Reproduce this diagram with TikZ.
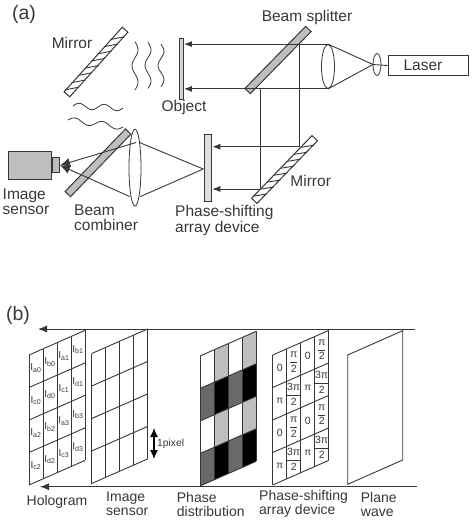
\documentclass[tikz,border=0pt]{standalone}
\usepackage{fontspec}
\setmainfont{Liberation Sans}
\definecolor{inkgray}{RGB}{55, 55, 55}
\definecolor{platefill}{RGB}{190, 190, 190}
\definecolor{devicefill}{RGB}{222, 222, 222}
\definecolor{darkcell}{RGB}{105, 105, 105}
\usetikzlibrary{arrows.meta, shapes.geometric, calc}
\newcommand{\labelsize}{\fontsize{15.5}{16}\selectfont}
\newcommand{\captionsize}{\fontsize{14}{14}\selectfont}
\newcommand{\phasefrac}[1]{$\displaystyle\frac{\mbox{#1}}{\mbox{2}}$}
\tikzset{
	plate/.style={rectangle, draw=inkgray, fill=platefill, line width=1pt, minimum width=87pt, minimum height=7.5pt, inner sep=0pt},
	mirrorplate/.style={plate, fill=white},
	lens/.style={ellipse, draw=inkgray, line width=0.8pt, inner sep=0pt},
	beam/.style={draw=inkgray, line width=0.9pt},
	beamarrow/.style={beam, -{Latex[length=8pt, width=6pt]}},
	hatchline/.style={draw=inkgray, line width=0.9pt},
	wave/.style={draw=inkgray, line width=0.8pt, smooth},
	panelline/.style={draw=inkgray, line width=0.9pt},
	optlabel/.style={text=inkgray, font=\labelsize, inner sep=0pt, align=left},
	panellabel/.style={text=inkgray, font=\captionsize, inner sep=0pt, align=left},
	celltext/.style={text=inkgray, font=\fontsize{10}{10}\selectfont, inner sep=0pt},
	fractext/.style={text=inkgray, font=\fontsize{10.5}{10.5}\selectfont, inner sep=0pt},
}
\begin{document}
\begin{tikzpicture}[x=1pt, y=-1pt]
	\useasboundingbox (0,0) rectangle (474,523);
	% (a)
	\node[text=inkgray, font=\fontsize{19.5}{19.5}\selectfont, inner sep=0pt] (tagA) at (24,14) {(a)};
	\node[plate, fill=devicefill!70!platefill, minimum width=3.5pt, minimum height=61pt] (object) at (181.7,68.5) {};
	\node[plate, fill=devicefill, minimum width=7.5pt, minimum height=67.5pt] (device) at (208,168) {};
	\node[plate, rotate=45.6] (splitter) at (278,60) {};
	\node[plate, rotate=46] (combiner) at (98,162.8) {};
	\node[mirrorplate, rotate=48] (mirrorA) at (96,62) {};
	\node[mirrorplate, rotate=46] (mirrorB) at (284.5,169.5) {};
	\foreach \m in {mirrorA, mirrorB}
		\foreach \t in {0.16,0.27,...,1.0}
			\draw[hatchline] ($(\m.south west)!\t!(\m.south east)$) -- ($(\m.north west)!\t-0.13!(\m.north east)$);
	\node[lens, minimum width=13pt, minimum height=44pt] (lensB) at (328,66.5) {};
	\node[lens, minimum width=8pt, minimum height=22pt] (lensC) at (377,64.5) {};
	\node[lens, minimum width=12pt, minimum height=77pt] (lensA) at (135,167.7) {};
	\node[rectangle, draw=inkgray, line width=0.9pt, minimum width=80pt, minimum height=20.5pt, inner sep=0pt, text=inkgray, font=\labelsize] (laser) at (428,65.5) {\hspace{-10pt}Laser};
	\node[rectangle, draw=inkgray, fill=platefill, line width=0.9pt, minimum width=42.7pt, minimum height=27.3pt] (sensor) at (29.7,165.3) {};
	\node[rectangle, draw=inkgray, fill=platefill, line width=0.9pt, minimum width=7.7pt, minimum height=15pt, anchor=west] (sensortip) at (sensor.east) {};
	\coordinate (focus) at (373,64.5);
	\coordinate (hitA) at (299.7,45);
	\coordinate (hitB) at (260,87.5);
	\coordinate (turnA) at (299.7,146.7);
	\coordinate (turnB) at (260,189);
	\coordinate (waist) at (203.3,169);
	\coordinate (rayTopR) at (139,142.3);
	\coordinate (rayTopL) at (136,142.5);
	\coordinate (rayBotR) at (140,196.7);
	\coordinate (rayBotL) at (130,196.7);
	\draw[beam] (lensB.north) -- (focus);
	\draw[beam] (lensB.south) -- (focus);
	\draw[beam] (lensC.west) -- (laser.west);
	\draw[beamarrow] (lensB.north) -- (object.east |- lensB.north);
	\draw[beamarrow] (lensB.south) -- (object.east |- lensB.south);
	\draw[beam] (hitA) -- (turnA);
	\draw[beam] (hitB) -- (turnB);
	\draw[beamarrow] (turnA) -- (device.east |- turnA);
	\draw[beamarrow] (turnB) -- (device.east |- turnB);
	\draw[beam] (waist) -- (rayTopR);
	\draw[beam] (waist) -- (rayBotR);
	\draw[beam, -{Latex[length=10pt, width=9pt]}] (rayTopL) -- (sensortip.east);
	\draw[beam, -{Latex[length=10pt, width=9pt]}] (rayBotL) -- (sensortip.east);
	% waves
	\foreach \wx/\wa/\wb in {135/41.7/90, 148/42.3/88.5, 161/44.3/86.7}
		\draw[wave] plot[domain=0:1, samples=25] ({\wx+3*sin(540*\x)}, {\wa+(\wb-\wa)*\x});
	\draw[wave] plot[domain=0:1, samples=25] ({73+50*\x}, {106+2*\x-3*sin(720*\x)});
	\draw[wave] plot[domain=0:1, samples=25] ({68+55*\x}, {120+7*\x-3*sin(720*\x)});
	\node[optlabel] (mirrorAlabel) at (72,43) {Mirror};
	\node[optlabel] (objectlabel) at (184,107) {Object};
	\node[optlabel] (sensorlabel) at (26,201.5) {Image\\[-1pt]sensor};
	\node[optlabel, anchor=west] (combinerlabel) at (74,217.5) {Beam\\[-1pt]combiner};
	\node[optlabel, anchor=west] (devicelabel) at (175,220.5) {Phase-shifting\\[-0.5pt]array device};
	\node[optlabel] (splitterlabel) at (307,17) {Beam splitter};
	\node[optlabel] (mirrorBlabel) at (310.7,180.7) {Mirror};
	% (b)
	\node[text=inkgray, font=\fontsize{19.5}{19.5}\selectfont, inner sep=0pt] (tagB) at (18,315) {(b)};
	\coordinate (topR) at (415,329);
	\coordinate (topL) at (38,329);
	\coordinate (botR) at (416.7,486.7);
	\coordinate (botL) at (40,486.7);
	% phase distribution cells
	\foreach \c/\r/\cellfill in {1/0/platefill, 3/0/platefill, 0/1/darkcell, 1/1/black, 2/1/darkcell, 3/1/black, 1/2/platefill, 3/2/platefill, 0/3/darkcell, 1/3/black, 2/3/darkcell, 3/3/black}
		\fill[\cellfill] ({200+\c*14}, {356+\r*32.5-\c*6.15}) -- ++(14,-6.15) -- ++(0,32.5) -- ++(-14,6.15) -- cycle;
	% panels
	\foreach \px/\py in {29/355, 91.7/353.5, 200/356, 272.7/355}{
		\foreach \c in {0,...,4}
			\draw[panelline] ({\px+\c*14}, {\py-\c*6.15}) -- ++(0,130);
		\foreach \r in {0,...,4}
			\draw[panelline] ({\px}, {\py+\r*32.5}) -- ++(56,-24.6);
	}
	\draw[panelline] (347.7,355) -- (402.7,330.7) -- (402.7,460) -- (347.7,484.3) -- cycle;
	% hologram text
	\foreach \c/\r/\a in {0/0/a0, 1/0/b0, 2/0/a1, 3/0/b1, 0/1/c0, 1/1/d0, 2/1/c1, 3/1/d1, 0/2/a2, 1/2/b2, 2/2/a3, 3/2/b3, 0/3/c2, 1/3/d2, 2/3/c3, 3/3/d3}
		\node[celltext] (holo\a) at ({29+(\c+0.5)*14}, {355+(\r+0.5)*32.5-(\c+0.5)*6.15}) {I\textsubscript{\a}};
	% phase-shift text
	\foreach \r in {0,2}{
		\node[fractext] (zeroA\r) at ({272.7+0.5*14}, {355+(\r+0.5)*32.5-0.5*6.15}) {0};
		\node[fractext] (halfA\r) at ({272.7+1.5*14}, {355+(\r+0.5)*32.5-1.5*6.15}) {\phasefrac{π}};
		\node[fractext] (zeroB\r) at ({272.7+2.5*14}, {355+(\r+0.5)*32.5-2.5*6.15}) {0};
		\node[fractext] (halfB\r) at ({272.7+3.5*14}, {355+(\r+0.5)*32.5-3.5*6.15}) {\phasefrac{π}};
	}
	\foreach \r in {1,3}{
		\node[celltext] (piA\r) at ({272.7+0.5*14}, {355+(\r+0.5)*32.5-0.5*6.15}) {π};
		\node[fractext] (tripleA\r) at ({272.7+1.5*14}, {355+(\r+0.5)*32.5-1.5*6.15}) {\phasefrac{3π}};
		\node[celltext] (piB\r) at ({272.7+2.5*14}, {355+(\r+0.5)*32.5-2.5*6.15}) {π};
		\node[fractext] (tripleB\r) at ({272.7+3.5*14}, {355+(\r+0.5)*32.5-3.5*6.15}) {\phasefrac{3π}};
	}
	\draw[panelline, -{Latex[length=9pt, width=7pt]}] (topR) -- (topL);
	\draw[panelline, -{Latex[length=9pt, width=7pt]}] (botR) -- (botL);
	\coordinate (pixelTop) at (154,428);
	\coordinate (pixelBot) at (154,459);
	\draw[draw=black, line width=1.2pt, {Latex[length=9pt, width=8pt]}-{Latex[length=9pt, width=8pt]}] (pixelTop) -- (pixelBot);
	\node[text=inkgray, font=\fontsize{10.3}{10.3}\selectfont, inner sep=0pt, anchor=west] (pixellabel) at (157,444) {1pixel};
	\node[panellabel] (hololabel) at (57,502) {Hologram};
	\node[panellabel, anchor=west] (ccdlabel) at (106,504) {Image\\sensor};
	\node[panellabel, anchor=west] (phaselabel) at (176.7,504) {Phase\\distribution};
	\node[panellabel, anchor=west] (shiftlabel) at (259,504) {Phase-shifting\\array device};
	\node[panellabel, anchor=west] (planelabel) at (360.7,504) {Plane\\wave};
\end{tikzpicture}
\end{document}
